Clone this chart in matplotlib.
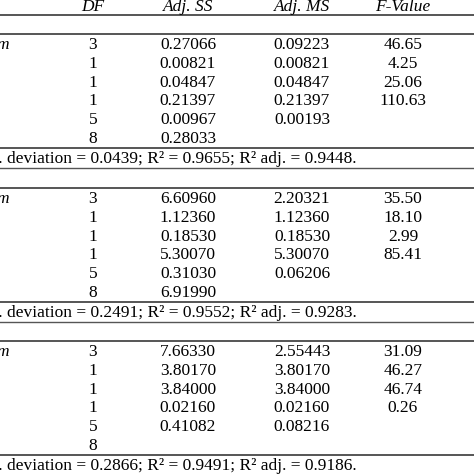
import matplotlib.pyplot as plt

headers = ["DF", "Adj. SS", "Adj. MS", "F-Value"]
df_vals = ["3", "1", "1", "1", "5", "8"]
ss1 = ["0.27066", "0.00821", "0.04847", "0.21397", "0.00967", "0.28033"]
ms1 = ["0.09223", "0.00821", "0.04847", "0.21397", "0.00193", ""]
f1 = ["46.65", "4.25", "25.06", "110.63", "", ""]
ss2 = ["6.60960", "1.12360", "0.18530", "5.30070", "0.31030", "6.91990"]
ms2 = ["2.20321", "1.12360", "0.18530", "5.30070", "0.06206", ""]
f2 = ["35.50", "18.10", "2.99", "85.41", "", ""]
ss3 = ["7.66330", "3.80170", "3.84000", "0.02160", "0.41082", ""]
ms3 = ["2.55443", "3.80170", "3.84000", "0.02160", "0.08216", ""]
f3 = ["31.09", "46.27", "46.74", "0.26", "", ""]
notes = [
    "Std. deviation = 0.0439; R\u00b2 = 0.9655; R\u00b2 adj. = 0.9448.",
    "Std. deviation = 0.2491; R\u00b2 = 0.9552; R\u00b2 adj. = 0.9283.",
    "Std. deviation = 0.2866; R\u00b2 = 0.9491; R\u00b2 adj. = 0.9186.",
]
sections = [(ss1, ms1, f1), (ss2, ms2, f2), (ss3, ms3, f3)]

plt.rcParams['font.family'] = ['Liberation Serif', 'DejaVu Serif']
fig = plt.figure(figsize=(4.74, 4.74), dpi=100)
ax = fig.add_axes([0, 0, 1, 1])
ax.set_xlim(0, 474)
ax.set_ylim(474, 0)
ax.axis('off')

col_x = [93, 188, 302, 403]
fs = 12.5
gray = '#555555'

for x, h in zip(col_x, headers):
    ax.text(x, 7, h, ha='center', va='center', style='italic', fontsize=fs)
ax.axhline(15, color=gray, lw=1.4)

starts = [34, 188, 341]
for (ss, ms, fv), top, note in zip(sections, starts, notes):
    ax.axhline(top, color=gray, lw=1.4)
    ax.text(-4, top + 11, "m", ha='left', va='center', style='italic', fontsize=fs)
    for i in range(6):
        y = top + 11 + i * 18.8
        for x, v in zip(col_x, [df_vals[i], ss[i], ms[i], fv[i]]):
            ax.text(x, y, v, ha='center', va='center', fontsize=fs)
    yl = top + 114
    ax.axhline(yl, color=gray, lw=1.4)
    ax.text(-25, yl + 11, note, ha='left', va='center', fontsize=fs)
    ax.axhline(yl + 20, color=gray, lw=1.0)

fig.savefig('out.png', dpi=100)
